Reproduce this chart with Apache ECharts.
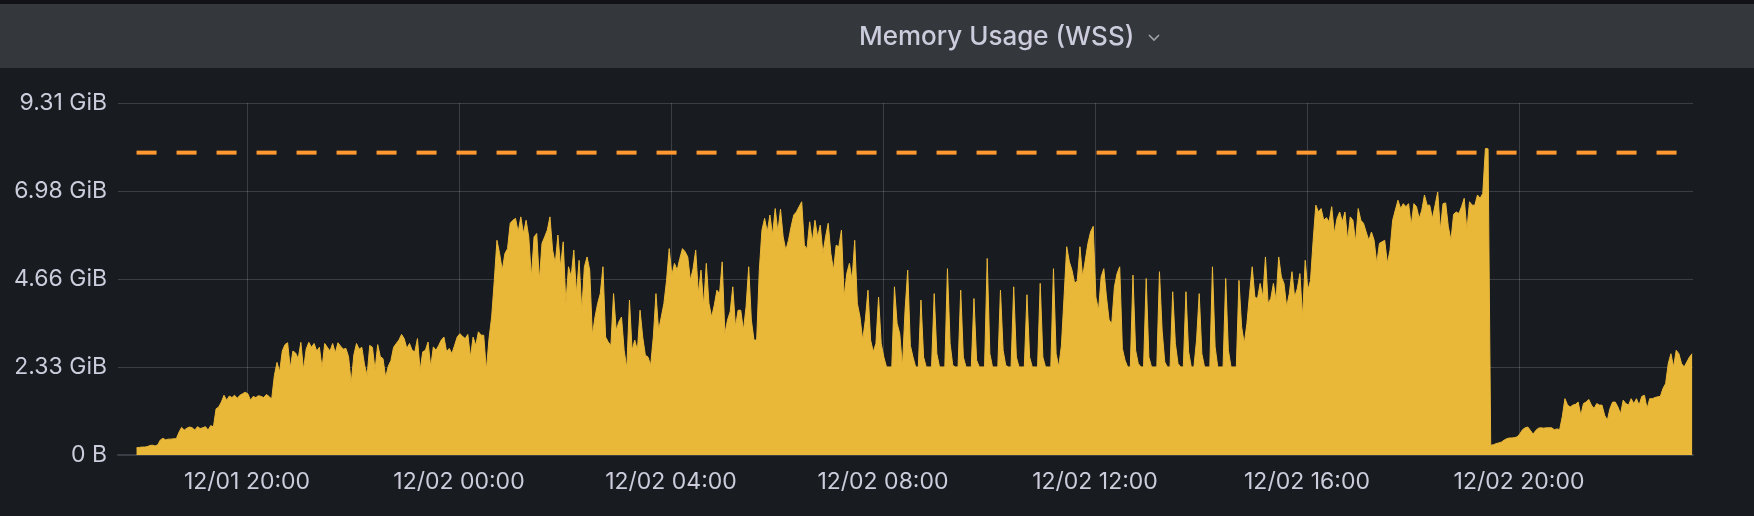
<!DOCTYPE html>
<html>
<head>
<meta charset="utf-8">
<script src="https://cdn.jsdelivr.net/npm/echarts@6/dist/echarts.min.js"></script>
<style>
html,body{margin:0;padding:0;background:#181b1f;}
#c{width:1754px;height:516px;}
</style>
</head>
<body>
<div id="c"></div>
<script>
// ---------------- data ----------------
const chartTitle = 'Memory Usage (WSS)';
const seriesStart = '2023-12-01T17:55:00';
const stepMinutes = 3;
const axisStart = '2023-12-01T17:34:00';
const axisEnd = '2023-12-02T23:17:00';
const xTickTimes = ['2023-12-01T20:00:00','2023-12-02T00:00:00','2023-12-02T04:00:00','2023-12-02T08:00:00','2023-12-02T12:00:00','2023-12-02T16:00:00','2023-12-02T20:00:00'];
const yMaxBytes = 1e10;
const yStepBytes = 2.5e9;
const limitGiB = 8;

// WSS in GiB, one value every 3 minutes
const wss1 = [0.19,0.20,0.21,0.21,0.22,0.25,0.26,0.24,0.27,0.40,
0.44,0.40,0.42,0.42,0.43,0.43,0.60,0.73,0.66,0.71,
0.74,0.72,0.66,0.75,0.70,0.72,0.75,0.66,0.78,0.74,
1.22,1.27,1.40,1.58,1.45,1.56,1.52,1.58,1.50,1.58,
1.62,1.66,1.62,1.45,1.55,1.52,1.57,1.55,1.52,1.60,
1.55,1.48,2.10,2.45,2.20,2.75,2.92,2.97,2.30,2.75,
2.70,2.55,2.98,2.25,2.80,2.98,2.85,2.95,2.75,2.85,
2.30,2.95,2.85,2.75,2.95,2.70,2.97,2.88,2.80,2.82,
2.60,1.90,2.65,2.95,2.80,2.85,2.40,2.10,2.90,2.85,
2.25,2.92,2.60,2.55,2.05,2.35,2.50,2.85];
const wss2 = [2.95,3.04,3.19,3.08,2.82,2.95,2.77,2.73,3.08,2.24,
2.73,2.77,2.99,2.33,2.86,2.77,2.90,3.04,3.12,2.73,
2.82,2.68,2.90,3.12,3.21,3.14,3.08,3.19,2.59,3.12,
2.90,3.26,3.17,3.17,2.24,3.08,3.65,4.62,5.68,5.33,
4.89,5.33,5.46,6.13,6.21,6.26,5.90,6.30,5.86,6.21,
5.77,4.71,5.77,5.86,4.62,5.60,5.77,5.95,6.30,5.42,
5.07,5.82,4.98,5.64,4.01,4.98,4.71,5.42,4.27,5.15,
3.81,4.98,5.24,4.89,3.17,3.65,4.01,4.27,4.98,3.12,
2.99,2.90,4.27,3.30,3.52,3.65,2.77,2.29,4.10,2.77,
3.04,2.77,3.83,3.12,2.64,2.59,2.37,3.12,4.27,3.30];
const wss3 = [3.65,4.01,4.62,5.46,4.76,5.07,4.89,5.20,5.46,5.38,
5.24,4.62,4.93,5.42,4.27,4.89,3.96,5.07,4.01,3.65,
3.96,4.36,4.27,5.11,3.21,3.57,3.79,4.45,3.39,3.83,
3.83,3.30,3.92,4.98,3.57,3.04,3.04,4.89,5.95,6.26,
5.90,6.35,5.82,6.52,5.90,6.50,5.77,5.42,5.68,6.04,
6.35,6.43,6.57,6.70,5.55,5.46,6.17,5.64,6.21,5.77,
6.08,5.33,5.77,6.13,5.33,4.89,5.55,5.51,5.95,4.18,
4.80,5.07,4.62,5.68,4.01,3.65,3.04,3.57,4.36,3.04,
2.73,2.95,4.18,2.95,2.59,2.33,2.33,2.33,4.45,3.48,
3.21,2.33,3.83,4.89,2.90,2.59,2.33,2.33,4.10,2.59];
const wss4 = [2.33,2.33,2.33,4.27,2.68,2.33,2.33,2.33,4.93,2.95,
2.37,2.33,2.33,4.36,2.59,2.33,2.33,2.33,4.14,2.51,
2.33,2.33,2.33,5.20,2.68,2.33,2.33,2.33,4.36,2.77,
2.37,2.33,2.33,4.45,2.59,2.33,2.33,2.33,4.24,2.59,
2.33,2.33,2.33,4.54,2.59,2.33,2.33,2.33,4.93,2.68,
2.33,2.90,4.18,5.51,5.11,4.89,4.54,4.62,5.51,4.71,
5.15,5.60,5.90,6.05,4.18,3.83,4.71,4.93,4.18,3.57,
3.48,4.45,4.80,4.98,2.82,2.51,2.33,2.33,4.76,2.77,
2.42,2.33,2.33,4.67,2.59,2.33,2.33,2.33,4.85,3.30,
2.46,2.33,2.33,4.32,2.95,2.42,2.33,2.33,4.32,2.73];
const wss5 = [2.33,2.33,3.04,4.27,2.68,2.33,2.33,2.33,4.98,2.86,
2.33,2.33,2.33,4.67,2.77,2.33,2.33,2.33,4.62,3.39,
2.95,3.48,4.27,4.98,4.18,4.14,4.54,4.18,5.24,4.01,
4.14,4.54,4.10,5.24,4.71,4.54,3.92,4.27,4.85,4.18,
4.40,4.80,3.65,5.15,4.36,4.62,5.68,6.61,6.43,6.52,
6.21,6.28,6.17,6.57,5.86,6.26,6.43,6.17,6.43,5.68,
6.30,6.21,5.64,6.52,6.21,6.13,5.90,5.68,5.90,5.68,
5.07,5.60,5.64,5.68,5.07,5.42,6.21,6.48,6.74,6.52,
6.65,6.57,6.65,6.08,6.65,6.57,6.26,6.48,6.88,6.61,
6.61,6.26,6.61,6.96,5.95,6.65,6.67,6.04,5.68,6.37];
const wss6 = [6.43,6.39,6.57,6.79,5.95,6.70,6.61,6.61,6.88,6.79,
6.92,8.11,8.10,0.26,0.27,0.30,0.32,0.34,0.39,0.43,
0.45,0.45,0.46,0.48,0.56,0.67,0.72,0.74,0.65,0.55,
0.65,0.71,0.72,0.71,0.72,0.72,0.72,0.67,0.69,0.67,
1.01,1.49,1.32,1.27,1.32,1.34,1.40,1.05,1.36,1.40,
1.47,1.32,1.23,1.36,1.32,1.32,1.05,0.92,1.23,1.40,
1.40,1.27,1.09,1.45,1.36,1.32,1.49,1.36,1.49,1.32,
1.55,1.58,1.23,1.49,1.49,1.52,1.54,1.55,1.76,1.89,
2.42,2.68,2.33,2.77,2.68,2.42,2.33,2.46,2.59,2.68];

// ---------------- build ----------------
const GiB = Math.pow(2, 30);
const t0 = new Date(seriesStart).getTime();
const stepMs = stepMinutes * 60 * 1000;
const wssAll = [].concat(wss1, wss2, wss3, wss4, wss5, wss6);
const wssData = wssAll.map((v, i) => [t0 + i * stepMs, v * GiB]);
const tEnd = t0 + (wssAll.length - 1) * stepMs;
const limitData = [[t0, limitGiB * GiB], [tEnd, limitGiB * GiB]];
const xTicksMs = xTickTimes.map(s => new Date(s).getTime());

const pad = n => (n < 10 ? '0' : '') + n;
function fmtTime(v) {
  const d = new Date(v);
  return pad(d.getMonth() + 1) + '/' + pad(d.getDate()) + ' ' + pad(d.getHours()) + ':' + pad(d.getMinutes());
}
function fmtBytes(v) {
  if (v === 0) return '0 B';
  return (v / GiB).toFixed(2) + ' GiB';
}

const textColor = '#ccccdc';
const gridColor = 'rgba(204,204,220,0.2)';
const fontFamily = 'Inter, "Noto Sans", sans-serif';

const chart = echarts.init(document.getElementById('c'), null, { renderer: 'canvas' });
chart.setOption({
  backgroundColor: '#181b1f',
  animation: false,
  grid: { left: 118, right: 61, top: 103, bottom: 61, containLabel: false },
  xAxis: {
    type: 'value',
    min: new Date(axisStart).getTime(),
    max: new Date(axisEnd).getTime(),
    axisLine: { show: true, lineStyle: { color: '#3b3e44', width: 2 } },
    axisTick: { show: false, customValues: xTicksMs },
    axisLabel: { customValues: xTicksMs, formatter: fmtTime, color: textColor, fontSize: 23, fontFamily: fontFamily, margin: 16 },
    splitLine: { show: true, lineStyle: { color: gridColor, width: 1 } }
  },
  yAxis: {
    type: 'value',
    min: 0,
    max: yMaxBytes,
    interval: yStepBytes,
    axisLine: { show: false },
    axisTick: { show: false },
    axisLabel: { formatter: fmtBytes, color: textColor, fontSize: 23, fontFamily: fontFamily, margin: 11 },
    splitLine: { show: true, lineStyle: { color: gridColor, width: 1 } }
  },
  series: [
    {
      name: 'WSS',
      type: 'line',
      data: wssData,
      showSymbol: false,
      symbol: 'none',
      sampling: null,
      lineStyle: { color: '#eab839', width: 1 },
      itemStyle: { color: '#eab839' },
      areaStyle: { color: '#eab839', opacity: 1 },
      z: 2
    },
    {
      name: 'Limit',
      type: 'line',
      data: limitData,
      showSymbol: false,
      symbol: 'none',
      lineStyle: { color: '#ff9830', width: 4, type: [20, 20], cap: 'butt' },
      z: 3
    }
  ],
  graphic: [
    { type: 'rect', shape: { x: 0, y: 0, width: 1754, height: 4 }, style: { fill: '#111217' }, z: 0 },
    { type: 'rect', shape: { x: 0, y: 4, width: 1754, height: 64 }, style: { fill: '#34373c' }, z: 0 },
    { type: 'text', x: 859, y: 37, style: { text: chartTitle, fill: textColor, font: '500 26px Inter, "Noto Sans", sans-serif', verticalAlign: 'middle', align: 'left' }, z: 1 },
    { type: 'polyline', shape: { points: [[1149, 35], [1154, 40], [1159, 35]] }, style: { stroke: '#9fa1a8', lineWidth: 1.6, fill: null }, z: 1 }
  ]
});
</script>
</body>
</html>
